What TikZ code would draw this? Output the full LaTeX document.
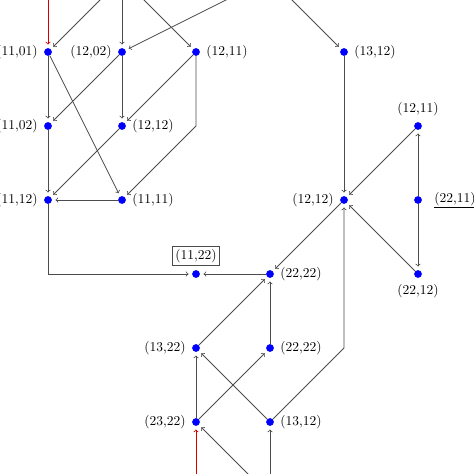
\documentclass[tikz,border=0pt]{standalone}
\usetikzlibrary{positioning}

\tikzset{every picture/.style={line width=0.6pt}}
\tikzset{
  pt/.style={circle,fill=blue,inner sep=0pt,minimum size=6.2pt},
  edge/.style={draw=black!70,->,shorten >=2.6pt},
  redge/.style={draw=red!85!black,->,shorten >=2.6pt},
  every label/.style={font=\fontsize{10.8}{13}\selectfont,label distance=1.2pt},
}

\begin{document}
\begin{tikzpicture}[x=0.8pt,y=0.8pt,yscale=-1,xscale=1]
\useasboundingbox (0,0) rectangle (474,474);
\clip (0,0) rectangle (474,474);

%Off-picture ends
\coordinate (inA) at (48,-22);
\coordinate (topL) at (122,-22);
\coordinate (topR) at (270,-22);
\coordinate (inU) at (196,496);
\coordinate (botS) at (270,496);

%Upper left block
\node[pt,label=left:{(11,01)}] (a1) at (48,52) {};
\node[pt,label=left:{(12,02)}] (b1) at (122,52) {};
\node[pt,label=right:{(12,11)}] (c1) at (196,52) {};
\node[pt,label=left:{(11,02)}] (a2) at (48,126) {};
\node[pt,label=right:{(12,12)}] (b2) at (122,126) {};
\node[pt,label=left:{(11,12)}] (a3) at (48,200) {};
\node[pt,label=right:{(11,11)}] (b3) at (122,200) {};

%Right block
\node[pt,label=right:{(13,12)}] (d1) at (344,52) {};
\node[pt,label=above:{(12,11)}] (e2) at (418,126) {};
\node[pt,label=left:{(12,12)}] (d3) at (344,200) {};
\node[pt,label={[label distance=6pt]right:{\underline{(22,11)}}}] (e3) at (418,200) {};
\node[pt,label=below:{(22,12)}] (e4) at (418,274) {};

%Lower block
\node[pt,label={[draw=black!70,inner sep=2.3pt,label distance=3pt]above:{(11,22)}}] (k) at (196,274) {};
\node[pt,label=right:{(22,22)}] (q1) at (270,274) {};
\node[pt,label=left:{(13,22)}] (r2) at (196,348) {};
\node[pt,label=right:{(22,22)}] (q2) at (270,348) {};
\node[pt,label=left:{(23,22)}] (r3) at (196,422) {};
\node[pt,label=right:{(13,12)}] (s3) at (270,422) {};

%Incoming
\draw[redge] (inA) -- (a1);
\draw[edge] (topL) -- (a1);
\draw[edge] (topL) -- (b1);
\draw[edge] (topL) -- (c1);
\draw[edge] (topR) -- (b1);
\draw[edge] (topR) -- (d1);

%Upper left edges
\draw[edge] (a1) -- (a2);
\draw[edge] (a1) -- (b3);
\draw[edge] (b1) -- (a2);
\draw[edge] (b1) -- (b2);
\draw[edge] (c1) -- (b2);
\draw[edge] (c1) -- (c1 |- b2) -- (b3);
\draw[edge] (a2) -- (a3);
\draw[edge] (b2) -- (a3);
\draw[edge] (b3) -- (a3);
\draw[edge] (a3) -- (a3 |- k) -- (k);

%Right edges
\draw[edge] (d1) -- (d3);
\draw[edge] (e2) -- (d3);
\draw[edge] (e3) -- (e2);
\draw[edge] (e3) -- (e4);
\draw[edge] (e4) -- (d3);
\draw[edge] (d3) -- (q1);

%Lower edges
\draw[edge] (q1) -- (k);
\draw[edge] (r2) -- (q1);
\draw[edge] (q2) -- (q1);
\draw[edge] (r3) -- (r2);
\draw[edge] (r3) -- (q2);
\draw[edge] (s3) -- (r2);
\draw[edge] (s3) -- (d3 |- r2) -- (d3);
\draw[redge] (inU) -- (r3);
\draw[edge] (botS) -- (r3);
\draw[edge] (botS) -- (s3);

\end{tikzpicture}
\end{document}
